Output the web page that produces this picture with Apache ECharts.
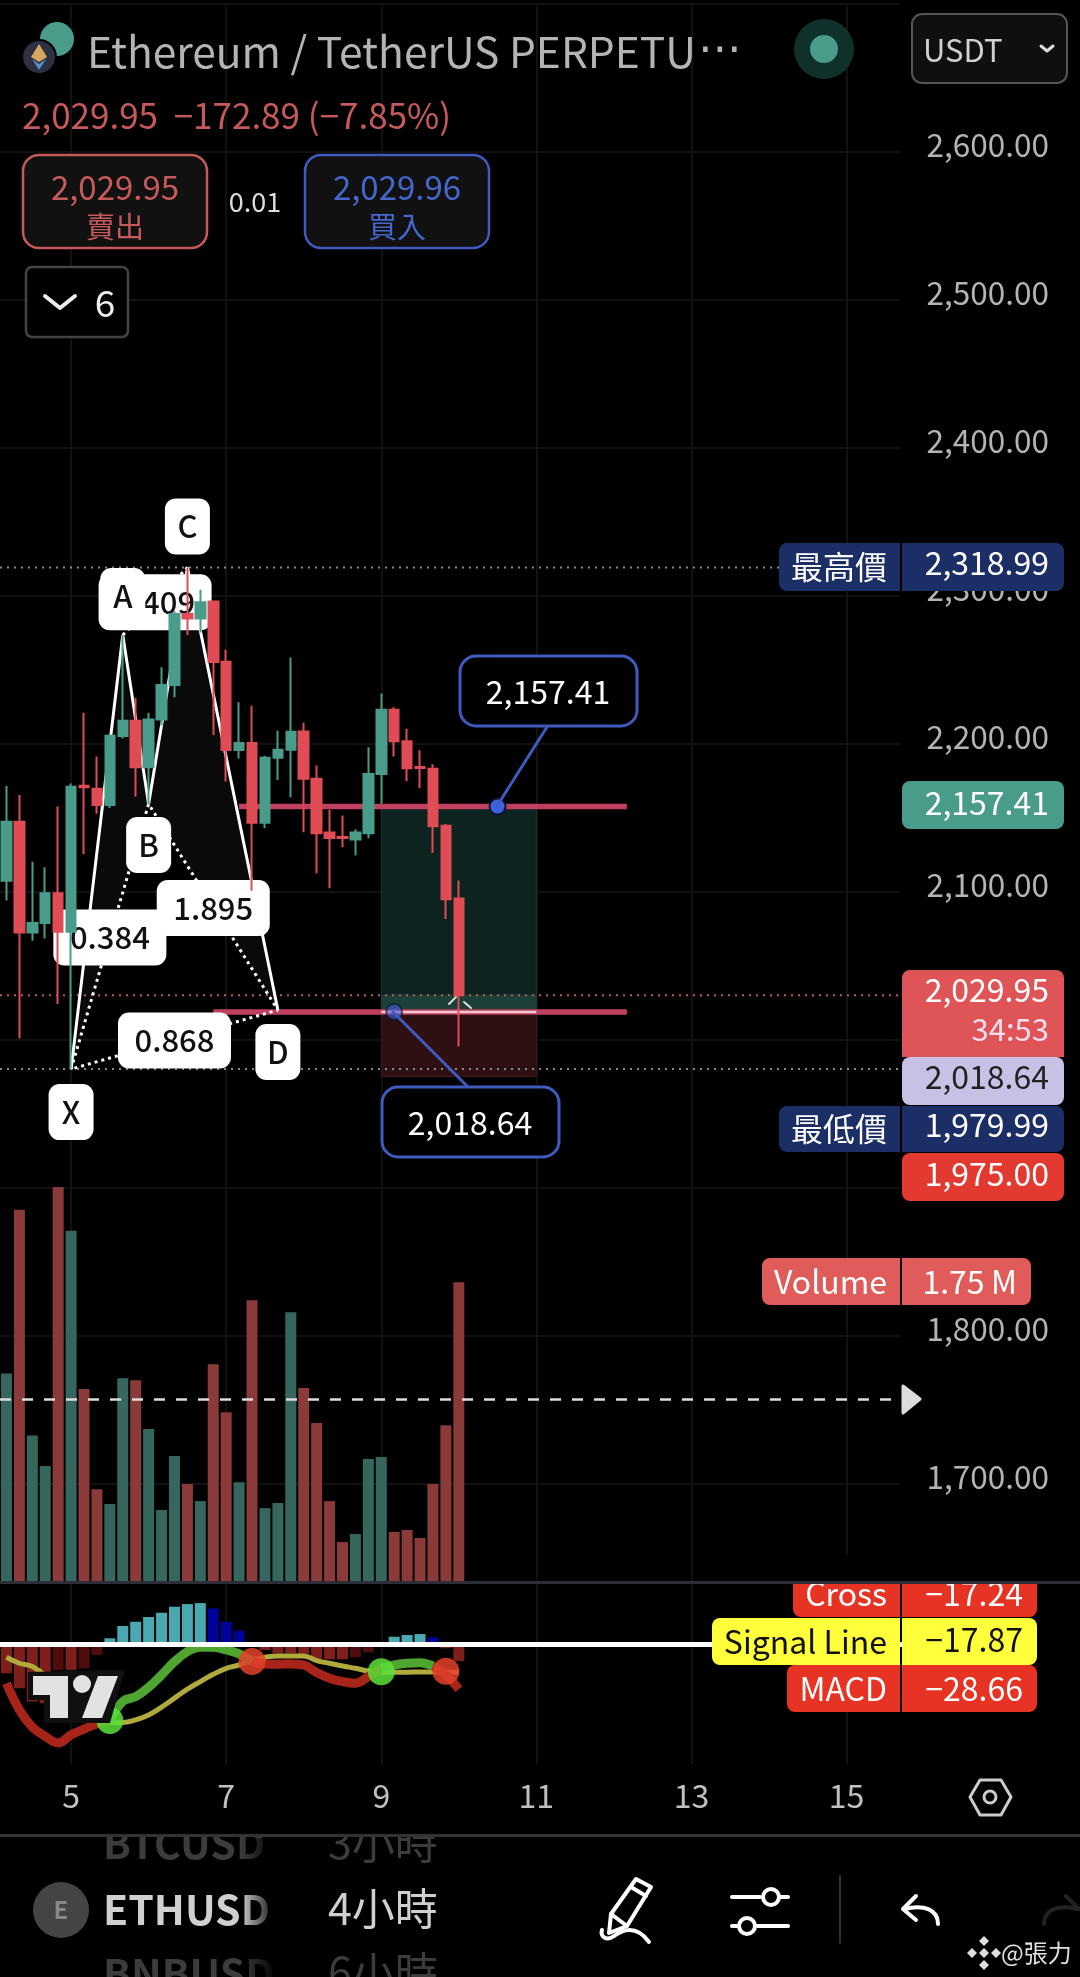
<!DOCTYPE html>
<html>
<head>
<meta charset="utf-8">
<style>
  html, body { margin: 0; padding: 0; background: #000; }
  #chart { width: 1080px; height: 1977px; }
</style>
<script src="https://cdn.jsdelivr.net/npm/echarts@6/dist/echarts.min.js"></script>
</head>
<body>
<div id="chart"></div>
<script>
// 4h candles, index 5 is day 5, six candles a day
const opens  = [2107.3,2147.1,2072.3,2078.8,2098.8,2072.8,2171.4,2169.5,2158.4,2205,2215.4,2184,2216.3,2239.5,2287.5,2284.4,2296,2255.2,2195.6,2200.4,2146.4,2190.3,2195.8,2208.1,2176.2,2139.8,2136.9,2135.2,2139.3,2179.4,2222.8,2201.6,2184.2,2183,2144.4,2095.2]
const closes = [2147.1,2072.3,2078.8,2098.8,2072.8,2170.7,2170.5,2158.4,2205.2,2215.4,2184,2216.3,2239.5,2287.5,2284.4,2295.5,2255,2195.6,2200.4,2146.4,2190.3,2195.8,2207.9,2176.2,2139.3,2136.2,2136.2,2139.8,2179.4,2222.8,2201.6,2183.2,2183.5,2144.1,2094.7,2029.95]
const lows   = [2094,2000.6,2066.7,2068.2,2024,1979.99,2125.4,2152.6,2156.5,2203.3,2164.2,2159.1,2212.2,2231.3,2273.3,2275,2205.7,2174.3,2189.8,2100.5,2142.7,2175.3,2163.7,2140,2112.3,2102.2,2129.9,2124.4,2135.9,2159.3,2191.2,2174.5,2169.7,2126,2081.4,1995.3]
const highs  = [2171.2,2165.2,2120.1,2116.4,2157.5,2172.9,2220.7,2191.2,2206.2,2273.3,2230.8,2220.7,2251.6,2289.4,2318.99,2303.9,2296.5,2263.4,2227.9,2225.5,2191.7,2208.6,2258.1,2214.1,2185.2,2155.2,2151.4,2142,2197.5,2233.7,2224.5,2210,2195.5,2185.9,2145.6,2107.5]
const volumes = [1.215,2.175,0.853,0.673,2.308,2.052,1.124,0.538,0.451,1.188,1.176,0.89,0.416,0.732,0.568,0.468,1.27,0.989,0.579,1.645,0.427,0.457,1.574,1.13,0.925,0.468,0.228,0.275,0.714,0.726,0.287,0.299,0.252,0.568,0.913,1.75]
const histValues = [-18.5,-28,-36.4,-37.5,-16.4,-16.4,-15.4,-6.9,3.6,11.4,14.1,17.1,19.8,23.6,25.3,25.9,22.5,14.1,8.4,-0.6,-3.8,-5.9,-5.9,-6.3,-9.7,-9.7,-9.7,-8.4,-5.3,-0.6,4.6,5.7,6.3,4.2,-2.7,-10.79]
const macdValues = [-24.9,-41.7,-52.6,-58.5,-62.7,-57.5,-53.9,-50.5,-48.4,-36.4,-33.3,-27.4,-19.6,-11.2,-4.8,-2.1,-2.1,-3.8,-6.3,-11.1,-12.6,-12.8,-12.6,-13.3,-18.1,-21.7,-23.8,-24.8,-20.6,-15.4,-13.3,-12.2,-11.8,-13.9,-19.6,-28.66]
const signalValues = [-8.4,-12.2,-14.3,-20.6,-33.3,-41.7,-47,-49.7,-49.7,-49.7,-48,-44.9,-40,-34.3,-28.6,-23.8,-19.2,-15.4,-13.3,-10.1,-8.4,-7.6,-7.6,-7.6,-10.5,-12.2,-13.9,-15.4,-17.1,-17.9,-17.9,-17.9,-17.7,-17.7,-17.7,-17.87]
const crossIndexes = [8, 19, 29, 34]
const crossValues = [-48.4, -11.1, -17.5, -17.24]

// XABCD pattern: candle index and price
const patternNames = ['X', 'A', 'B', 'C', 'D']
const patternIndexes = [5, 9, 11, 14, 21]
const patternPrices = [1979.99, 2273.3, 2159.1, 2318.99, 2019.9]
const ratioLabels = ['0.384', '1.895', '0.868', '0.409']

const priceTicks = [1600, 2700]
const dayLabels = ['5', '7', '9', '11', '13', '15']
const categories = []
for (let i = 0; i < 70; i++) {
  const k = (i - 5) / 12
  categories.push(k >= 0 && k < dayLabels.length && Number.isInteger(k) ? dayLabels[k] : '')
}

const FONT = '"Noto Sans CJK TC", "Noto Sans", sans-serif'
const GRID_LEFT = -3.2
const GRID_W = 907.9
const PANE_END = 69.13
const GREEN = '#4a9c8a'
const RED = '#e04c55'
const BLUE = '#3f5bc0'
const LINE_RED = '#c0415f'
const NAVY = '#1c2e66'
const GRID_LINE = '#121212'

const target = 2157.41
const stop = 1975
const entry = 2018.64
const last = 2029.95
const highest = 2318.99
const lowest = 1979.99
const volAvg = 1756.8

function hLine(price, from, to, width, color, type, z) {
  return {
    type: 'line', xAxisIndex: 3, yAxisIndex: 0, z: z, silent: true, symbol: 'none', animation: false,
    lineStyle: { width: width, color: color, type: type || 'solid' },
    data: [[from, price], [to, price]]
  }
}

const pt = n => [patternIndexes[n], patternPrices[n]]
const mid = (a, b) => [(patternIndexes[a] + patternIndexes[b]) / 2, (patternPrices[a] + patternPrices[b]) / 2]

const zones = [
  { pts: [[29, target], [41, target], [41, last], [29, last]], fill: '#0d2320', stroke: '#1b352f' },
  { pts: [[29, last], [41, last], [41, entry], [29, entry]], fill: '#1d3f39', stroke: '#1d3f39' },
  { pts: [[29, entry], [41, entry], [41, stop], [29, stop]], fill: '#2e0f12', stroke: '#42191d' },
  { pts: [pt(0), pt(1), pt(2)], fill: '#0a0a0a', stroke: 'none' },
  { pts: [pt(2), pt(3), pt(4)], fill: '#0a0a0a', stroke: 'none' }
]

// ---- page chrome, drawn with graphic elements
const g = []
const txt = (x, y, text, fill, size, align, weight, z, family) => g.push({
  type: 'text', z: z || 101, silent: true,
  style: { x: x, y: y, text: text, fill: fill, font: (weight || 400) + ' ' + size + 'px ' + (family || FONT), textAlign: align || 'left', textVerticalAlign: 'middle' }
})
const rect = (x, y, w, h, fill, r, z, stroke, lw) => g.push({
  type: 'rect', z: z || 100, silent: true, shape: { x: x, y: y, width: w, height: h, r: r || 0 },
  style: { fill: fill, stroke: stroke || 'none', lineWidth: lw || 0 }
})
const poly = (pts, fill, z, stroke, lw) => g.push({
  type: 'polygon', z: z || 100, silent: true, shape: { points: pts },
  style: { fill: fill, stroke: stroke || 'none', lineWidth: lw || 0, lineJoin: 'round' }
})
const circle = (cx, cy, r, fill, z, stroke, lw) => g.push({
  type: 'circle', z: z || 100, silent: true, shape: { cx: cx, cy: cy, r: r },
  style: { fill: fill, stroke: stroke || 'none', lineWidth: lw || 0 }
})
const seg = (x1, y1, x2, y2, stroke, lw, z) => g.push({
  type: 'line', z: z || 100, silent: true, shape: { x1: x1, y1: y1, x2: x2, y2: y2 },
  style: { stroke: stroke, lineWidth: lw, lineCap: 'round' }
})
const pline = (pts, stroke, lw, z) => g.push({
  type: 'polyline', z: z || 100, silent: true, shape: { points: pts },
  style: { fill: 'none', stroke: stroke, lineWidth: lw, lineJoin: 'round', lineCap: 'round' }
})
const curve = (x1, y1, cpx1, cpy1, cpx2, cpy2, x2, y2, stroke, lw) => g.push({
  type: 'bezierCurve', z: 100, silent: true,
  shape: { x1: x1, y1: y1, cpx1: cpx1, cpy1: cpy1, cpx2: cpx2, cpy2: cpy2, x2: x2, y2: y2 },
  style: { fill: 'none', stroke: stroke, lineWidth: lw, lineCap: 'round' }
})

function tag(o) {
  const c = o.color
  if (o.label) {
    rect(o.lx, o.y, 900 - o.lx, o.h, c, [8, 0, 0, 8])
    txt(887, o.y + o.h / 2, o.label, o.text || '#fff', 32, 'right')
  }
  rect(902, o.y, o.rx - 902, o.h, c, o.label ? [0, 8, 8, 0] : [8, 8, 8, 8])
  txt(o.vx || 1049, o.y + o.h / 2 - (o.dy || 0), o.value, o.text || '#fff', 32, 'right')
}

// header
circle(57, 39, 17, GREEN)
circle(39, 57, 17, '#2c3040', 101, '#000', 2)
poly([[39, 44], [47, 57], [39, 62], [31, 57]], '#d8a860', 102)
poly([[39, 64], [46, 59], [39, 70], [32, 59]], '#5a90c8', 102)
txt(87, 52, 'Ethereum / TetherUS PERPETU', '#b4b4b4', 42.5)
txt(698, 52, '⋯', '#b4b4b4', 44, 'left', 400, 101, '"DejaVu Sans"')
circle(824, 49, 30, '#10302b')
circle(824, 49, 14, GREEN, 101)
rect(912, 14, 155, 69, '#0f0f0f', 10, 100, '#555', 2)
txt(923, 50, 'USDT', '#d0d0d0', 31)
pline([[1041, 46], [1047, 51], [1053, 46]], '#ddd', 3, 101)
txt(22, 116, '2,029.95  −172.89 (−7.85%)', '#c65a5a', 35)
rect(23, 155, 184, 93, '#111', 16, 100, '#c65a5a', 2.5)
txt(115, 187, '2,029.95', '#c65a5a', 33, 'center')
txt(115, 227, '賣出', '#c65a5a', 29, 'center')
txt(255, 202, '0.01', '#ddd', 27, 'center')
rect(305, 155, 184, 93, '#111', 16, 100, BLUE, 2.5)
txt(397, 187, '2,029.96', '#4566cc', 33, 'center')
txt(397, 227, '買入', '#4566cc', 29, 'center')
rect(26, 267, 102, 70, '#000', 6, 100, '#444', 2.5)
pline([[45, 296], [60, 308], [75, 296]], '#eee', 4, 101)
txt(105, 303, '6', '#eee', 37, 'center')

// callouts from the price lines
seg(547, 727, 497, 806, BLUE, 3, 30)
rect(460, 656, 177, 70, '#000', 16, 100, BLUE, 3)
txt(548, 692, '2,157.41', '#fff', 32, 'center')
seg(468, 1087, 393, 1012, BLUE, 3, 30)
rect(382, 1087, 177, 70, '#000', 16, 100, BLUE, 3)
txt(470, 1123, '2,018.64', '#fff', 32, 'center')
seg(449, 1004, 456, 997, '#ddd', 2, 30)
seg(464, 1002, 471, 1008, '#ddd', 2, 30)

// right column tags
rect(900, 0, 6, 1577, '#000', 0, 50)
tag({ label: '最高價', lx: 779, y: 543, h: 48, rx: 1064, color: NAVY, value: '2,318.99', dy: 4 })
tag({ y: 781, h: 48, rx: 1064, color: GREEN, value: '2,157.41', dy: 2 })
rect(902, 970, 162, 87, '#df5457', [8, 8, 0, 0])
txt(1049, 990, '2,029.95', '#fff', 32, 'right')
txt(1049, 1029, '34:53', '#fde', 31, 'right')
tag({ y: 1057, h: 48, rx: 1064, color: '#c9c0e6', text: '#222', value: '2,018.64', dy: 4 })
tag({ label: '最低價', lx: 779, y: 1106, h: 46, rx: 1064, color: NAVY, value: '1,979.99', dy: 4 })
tag({ y: 1153, h: 48, rx: 1064, color: '#e23a30', value: '1,975.00', dy: 3 })
tag({ label: 'Volume', lx: 762, y: 1258, h: 47, rx: 1031, color: '#df5c5a', value: '1.75\u2009M', vx: 1017 })
poly([[903, 1386], [920, 1399], [903, 1413]], '#ddd', 100, '#ddd', 3)

// indicator pane tags
tag({ label: 'Cross', lx: 793, y: 1570, h: 47, rx: 1037, color: '#e63323', value: '−17.24', vx: 1023 })
rect(780, 1555, 270, 27, '#000', 0, 102)
rect(0, 1581, 1080, 3, '#2e2e38', 0, 103)
tag({ label: 'Signal Line', lx: 712, y: 1618, h: 47, rx: 1037, color: '#ffff3c', text: '#111', value: '−17.87', vx: 1023, dy: 2 })
tag({ label: 'MACD', lx: 787, y: 1665, h: 47, rx: 1037, color: '#e63323', value: '−28.66', vx: 1023 })

// tradingview mark
poly([[28, 1672], [125, 1670], [110, 1723], [44, 1723], [44, 1700], [28, 1700]], '#101010', 20)
poly([[33, 1676], [68, 1676], [68, 1718], [50, 1718], [50, 1695], [33, 1695]], '#e2e2e2', 21)
circle(82, 1684, 9, '#e2e2e2', 21)
poly([[98, 1676], [118, 1676], [102, 1718], [82, 1718]], '#e2e2e2', 21)

// hex settings icon
poly([[970, 1797], [980, 1780], [1001, 1780], [1011, 1797], [1001, 1815], [980, 1815]], 'none', 100, '#ccc', 3)
circle(990, 1797, 6, 'none', 100, '#ccc', 3)

// bottom bar
rect(0, 1834, 1080, 3, '#333', 0, 103)
txt(103, 1843, 'BTCUSD', '#3c3c3c', 41, 'left', 700)
txt(328, 1843, '3小時', '#3c3c3c', 43)
rect(90, 1812, 400, 22, '#000', 0, 102)
circle(61, 1910, 28, '#444')
txt(61, 1910, 'E', '#888', 24, 'center', 700)
txt(103, 1909, 'ETHUSD', '#d0d0d0', 41, 'left', 700)
txt(328, 1909, '4小時', '#d0d0d0', 43)
txt(103, 1973, 'BNBUSD', '#3c3c3c', 41, 'left', 700)
txt(328, 1973, '6小時', '#3c3c3c', 43)
g.push({
  type: 'rect', z: 102, silent: true, shape: { x: 240, y: 1838, width: 48, height: 139 },
  style: { fill: new echarts.graphic.LinearGradient(0, 0, 1, 0, [{ offset: 0, color: 'rgba(0,0,0,0)' }, { offset: 0.8, color: '#000' }, { offset: 1, color: '#000' }]) }
})
// pencil
poly([[636, 1879], [651, 1887], [627, 1926], [609, 1933], [611, 1914]], 'none', 100, '#fff', 4)
seg(631, 1887, 646, 1896, '#fff', 4)
seg(611, 1914, 627, 1926, '#fff', 4)
curve(649, 1942, 636, 1924, 622, 1930, 614, 1936, '#fff', 4)
curve(614, 1936, 606, 1942, 600, 1936, 602, 1930, '#fff', 4)
// sliders
seg(732, 1897, 760, 1897, '#fff', 4)
seg(780, 1897, 788, 1897, '#fff', 4)
circle(771, 1897, 8, 'none', 100, '#fff', 4)
seg(732, 1926, 737, 1926, '#fff', 4)
seg(757, 1926, 788, 1926, '#fff', 4)
circle(747, 1926, 8, 'none', 100, '#fff', 4)
seg(840, 1876, 840, 1943, '#333', 2)
// undo, redo
pline([[916, 1896], [903, 1909], [916, 1920]], '#fff', 4)
curve(904, 1909, 925, 1904, 938, 1910, 938, 1924, '#fff', 4)
pline([[1066, 1896], [1079, 1909]], '#222', 4)
curve(1078, 1909, 1057, 1904, 1044, 1910, 1044, 1924, '#222', 4)
// watermark
;[[984, 1941], [984, 1965], [972, 1953], [996, 1953], [984, 1953]].forEach(p => {
  poly([[p[0], p[1] - 5], [p[0] + 5, p[1]], [p[0], p[1] + 5], [p[0] - 5, p[1]]], '#ddd')
})
txt(1001, 1953, '@張力', '#e0e0e0', 24)

// ---- chart
const chart = echarts.init(document.getElementById('chart'), null, { renderer: 'canvas' })
const grids = [
  { left: GRID_LEFT, top: 3.5, width: GRID_W, height: 1628 },
  { left: GRID_LEFT, top: 1187, width: GRID_W, height: 394 },
  { left: GRID_LEFT, top: 1584, width: GRID_W, height: 180 }
]
const dayLine = (i) => (i - 5) % 12 === 0 && i >= 5
const vLines = { show: true, alignWithLabel: true, interval: dayLine, lineStyle: { color: GRID_LINE, width: 2 } }
const hiddenCat = (gridIndex, split) => ({
  type: 'category', gridIndex: gridIndex, data: categories, boundaryGap: true,
  axisLine: { show: false }, axisTick: { show: false }, axisLabel: { show: false },
  splitLine: split ? vLines : { show: false }
})

chart.setOption({
  backgroundColor: '#000',
  animation: false,
  textStyle: { fontFamily: FONT },
  graphic: { elements: g },
  grid: grids,
  xAxis: [
    hiddenCat(0, true),
    hiddenCat(1, false),
    Object.assign(hiddenCat(2, true), {
      axisLabel: { show: true, interval: dayLine, color: '#c0c0c0', fontSize: 32, margin: 16, fontFamily: FONT }
    }),
    { type: 'value', gridIndex: 0, min: -0.5, max: 69.5, show: false }
  ],
  yAxis: [
    {
      type: 'value', gridIndex: 0, position: 'right', min: priceTicks[0], max: priceTicks[1], interval: 100,
      axisLine: { show: false }, axisTick: { show: false },
      splitLine: { show: true, showMinLine: false, lineStyle: { color: GRID_LINE, width: 2 } },
      axisLabel: {
        margin: 144.3, align: 'right', verticalAlign: 'bottom', lineHeight: 13, color: '#b4b4b4', fontSize: 31.5, fontFamily: FONT,
        showMinLabel: false, showMaxLabel: false,
        formatter: v => v.toLocaleString('en-US', { minimumFractionDigits: 2, maximumFractionDigits: 2 })
      }
    },
    { type: 'value', gridIndex: 1, min: 0, max: 2.308, show: false },
    { type: 'value', gridIndex: 2, min: -76, max: 38, show: false }
  ],
  series: [
    {
      type: 'custom', xAxisIndex: 3, yAxisIndex: 0, z: 1, silent: true, coordinateSystem: 'cartesian2d',
      data: zones.map((z, i) => [i, i]),
      renderItem: (params, api) => {
        const z = zones[params.dataIndex]
        return {
          type: 'polygon', shape: { points: z.pts.map(p => api.coord(p)) },
          style: { fill: z.fill, stroke: z.stroke, lineWidth: 1 }
        }
      }
    },
    hLine(target, 18, 48, 5.5, LINE_RED, 'solid', 2),
    hLine(entry, 16, 48, 5.5, LINE_RED, 'solid', 2),
    hLine(entry, 29, 41, 2.5, '#f0c8d4', 'solid', 2),
    hLine(highest, -0.5, PANE_END, 2, '#8a8a8a', [2, 5], 2),
    hLine(last, -0.5, PANE_END, 2, '#b85a5a', [2, 5], 2),
    hLine(lowest, -0.5, PANE_END, 2, '#8a8a8a', [2, 5], 2),
    hLine(volAvg, -0.5, 68.7, 2.5, '#ddd', [11, 11], 6),
    {
      type: 'line', xAxisIndex: 3, yAxisIndex: 0, z: 2, silent: true, symbol: 'none',
      lineStyle: { color: '#fff', width: 3, type: [3, 4] },
      data: [pt(0), pt(2), pt(4), pt(0)]
    },
    {
      type: 'line', xAxisIndex: 3, yAxisIndex: 0, z: 2, silent: true, symbol: 'none',
      lineStyle: { color: '#fff', width: 3, type: [3, 4] },
      data: [pt(1), pt(3)]
    },
    {
      type: 'line', xAxisIndex: 3, yAxisIndex: 0, z: 2, silent: true, symbol: 'none',
      lineStyle: { color: '#fff', width: 3 },
      data: patternNames.map((n, i) => pt(i))
    },
    {
      type: 'scatter', xAxisIndex: 3, yAxisIndex: 0, z: 3, silent: true, symbolSize: 1,
      itemStyle: { color: 'rgba(0,0,0,0)', opacity: 1 },
      label: {
        show: true, position: 'inside', color: '#111', fontSize: 31, fontWeight: 500, fontFamily: FONT,
        backgroundColor: '#fff', borderRadius: 11, align: 'center', verticalAlign: 'middle',
        width: 113, height: 56, lineHeight: 56, formatter: p => p.name, offset: [0, 1]
      },
      data: [
        { name: ratioLabels[0], value: mid(0, 2) },
        { name: ratioLabels[1], value: mid(2, 4) },
        { name: ratioLabels[2], value: mid(0, 4) },
        { name: ratioLabels[3], value: mid(1, 3) }
      ].concat(patternNames.map((n, i) => ({
        name: n, value: pt(i),
        label: { width: 45, offset: [0, [43, -39, 41, -41, 42][i]] }
      })))
    },
    {
      type: 'candlestick', xAxisIndex: 0, yAxisIndex: 0, z: 4, silent: true, barWidth: 10,
      itemStyle: { color: GREEN, color0: RED, borderColor: GREEN, borderColor0: RED, borderWidth: 2 },
      data: opens.map((o, i) => [o, closes[i], lows[i], highs[i]])
    },
    {
      type: 'scatter', xAxisIndex: 3, yAxisIndex: 0, z: 5, silent: true, symbolSize: 16,
      itemStyle: { color: '#3f63e0', borderColor: '#0b1330', borderWidth: 2, opacity: 1 },
      data: [[38, target], { value: [30, entry], itemStyle: { opacity: 0.6 } }]
    },
    {
      type: 'bar', xAxisIndex: 1, yAxisIndex: 1, barWidth: 11, z: 1, silent: true,
      data: volumes,
      itemStyle: { color: p => closes[p.dataIndex] >= opens[p.dataIndex] ? '#35675f' : '#8a3a38' }
    },
    {
      type: 'bar', xAxisIndex: 2, yAxisIndex: 2, barWidth: 11, z: 1, silent: true,
      data: histValues,
      itemStyle: {
        color: p => {
          const prev = p.dataIndex ? histValues[p.dataIndex - 1] : -1
          if (p.value >= 0) return p.value >= prev ? '#4aa8b0' : '#00009a'
          return p.value <= prev ? '#7e1f1c' : '#4e0c0c'
        }
      }
    },
    {
      type: 'line', xAxisIndex: 2, yAxisIndex: 2, z: 2, silent: true, symbol: 'none', smooth: 0.4,
      lineStyle: { color: '#b0a93c', width: 5 }, data: signalValues
    },
    {
      type: 'line', xAxisIndex: 2, yAxisIndex: 2, z: 3, silent: true, symbol: 'none', smooth: 0.4,
      lineStyle: { color: '#a82318', width: 9 },
      data: macdValues.map((v, i) => (macdValues[i] <= signalValues[i] || i === 8 || i === 19 || i === 29 || i === 33) ? v : null)
    },
    {
      type: 'line', xAxisIndex: 2, yAxisIndex: 2, z: 3, silent: true, symbol: 'none', smooth: 0.4,
      lineStyle: { color: '#4ea52f', width: 9 },
      data: macdValues.map((v, i) => (macdValues[i] >= signalValues[i] || i === 8 || i === 19 || i === 29 || i === 33) ? v : null)
    },
    {
      type: 'scatter', xAxisIndex: 2, yAxisIndex: 2, z: 4, silent: true, symbolSize: 27,
      data: crossIndexes.map((c, i) => ({
        value: [c, crossValues[i]],
        itemStyle: { color: i % 2 ? '#e3412a' : '#5be03a', opacity: 0.85 }
      }))
    },
    {
      type: 'line', xAxisIndex: 2, yAxisIndex: 2, z: 7, silent: true, data: [],
      markLine: {
        silent: true, symbol: 'none', label: { show: false }, animation: false,
        lineStyle: { color: '#fff', width: 5, type: 'solid' },
        data: [{ yAxis: 0 }]
      }
    }
  ]
})
</script>
</body>
</html>
